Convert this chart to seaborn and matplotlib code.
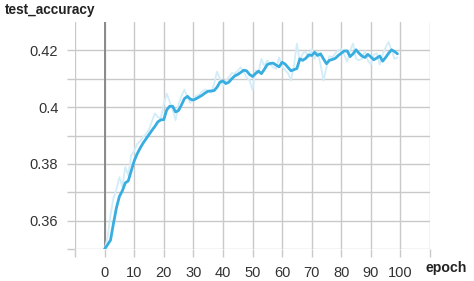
import numpy as np
import pandas as pd
import matplotlib
matplotlib.use("Agg")
import matplotlib.pyplot as plt
import seaborn as sns

epochs = list(range(100))

smoothed = [
    0.3500, 0.3515, 0.3531, 0.3590, 0.3645, 0.3685, 0.3705, 0.3733, 0.3740, 0.3775,
    0.3810, 0.3835, 0.3855, 0.3873, 0.3888, 0.3903, 0.3918, 0.3932, 0.3948, 0.3955,
    0.3956, 0.3990, 0.4003, 0.4003, 0.3983, 0.3988, 0.4008, 0.4030, 0.4038, 0.4028,
    0.4025, 0.4030, 0.4036, 0.4042, 0.4050, 0.4056, 0.4057, 0.4058, 0.4070, 0.4088,
    0.4092, 0.4083, 0.4088, 0.4100, 0.4110, 0.4115, 0.4122, 0.4130, 0.4128, 0.4115,
    0.4108, 0.4118, 0.4127, 0.4118, 0.4133, 0.4150, 0.4154, 0.4155, 0.4148, 0.4142,
    0.4158, 0.4152, 0.4140, 0.4128, 0.4132, 0.4136, 0.4170, 0.4165, 0.4172, 0.4184,
    0.4182, 0.4193, 0.4182, 0.4188, 0.4170, 0.4153, 0.4165, 0.4168, 0.4172, 0.4182,
    0.4190, 0.4198, 0.4198, 0.4178, 0.4188, 0.4202, 0.4190, 0.4180, 0.4175, 0.4186,
    0.4177, 0.4167, 0.4173, 0.4180, 0.4162, 0.4175, 0.4190, 0.4202, 0.4196, 0.4188,
]

raw = [
    0.3500, 0.3540, 0.3620, 0.3680, 0.3710, 0.3753, 0.3720, 0.3789, 0.3760, 0.3830,
    0.3845, 0.3870, 0.3880, 0.3895, 0.3905, 0.3920, 0.3950, 0.3978, 0.3965, 0.3960,
    0.4010, 0.4048, 0.4020, 0.3990, 0.3954, 0.4010, 0.4040, 0.4062, 0.4035, 0.4015,
    0.4030, 0.4040, 0.4045, 0.4055, 0.4062, 0.4058, 0.4050, 0.4080, 0.4125, 0.4100,
    0.4075, 0.4095, 0.4105, 0.4120, 0.4118, 0.4128, 0.4140, 0.4125, 0.4105, 0.4095,
    0.4060, 0.4130, 0.4120, 0.4170, 0.4145, 0.4165, 0.4150, 0.4140, 0.4135, 0.4175,
    0.4145, 0.4130, 0.4120, 0.4094, 0.4145, 0.4224, 0.4160, 0.4190, 0.4195, 0.4175,
    0.4205, 0.4170, 0.4195, 0.4150, 0.4094, 0.4140, 0.4180, 0.4175, 0.4190, 0.4200,
    0.4205, 0.4185, 0.4160, 0.4200, 0.4224, 0.4170, 0.4165, 0.4170, 0.4198, 0.4165,
    0.4150, 0.4185, 0.4190, 0.4150, 0.4185, 0.4210, 0.4230, 0.4200, 0.4170, 0.4175,
]

x_ticks = list(range(-10, 111, 10))
x_labels = ["" if t < 0 or t > 100 else str(t) for t in x_ticks]
y_ticks = [0.35, 0.36, 0.37, 0.38, 0.39, 0.40, 0.41, 0.42]
y_labels = ["", "0.36", "", "0.38", "", "0.4", "", "0.42"]

title = "test_accuracy"
xlabel = "epoch"

sns.set_theme(style="white")
plt.rcParams["font.family"] = ["Liberation Sans", "DejaVu Sans"]

df = pd.DataFrame({"epoch": epochs, "smoothed": smoothed, "raw": raw})

fig = plt.figure(figsize=(4.74, 2.81), dpi=100)
ax = fig.add_axes([75 / 474, 1 - 249 / 281, (430 - 75) / 474, (249 - 22) / 281])

grid_c = "#c9c9c9"
sns.lineplot(data=df, x="epoch", y="raw", ax=ax, color="#d2edf9", linewidth=1.3, zorder=3)
sns.lineplot(data=df, x="epoch", y="smoothed", ax=ax, color="#38ade0", linewidth=2.0, zorder=4)

ax.set_xlim(-10, 110)
ax.set_ylim(0.35, 0.43)
ax.set_xticks(x_ticks)
ax.set_xticklabels(x_labels)
ax.set_yticks(y_ticks)
ax.set_yticklabels(y_labels)
ax.grid(True, color=grid_c, linewidth=1.0, zorder=0)
ax.set_axisbelow(True)
for s in ax.spines.values():
    s.set_visible(False)
ax.axvline(0, color="#8a8a8a", linewidth=1.4, zorder=2)
ax.tick_params(axis="both", which="both", length=6, width=1.0, color=grid_c,
               labelsize=10.5, labelcolor="#333333", bottom=True, left=True)
ax.tick_params(axis="y", pad=6)
ax.tick_params(axis="x", pad=6)
ax.set_xlabel("")
ax.set_ylabel("")

fig.text(5 / 474, 1 - 10 / 281, title, fontsize=9.8, fontweight="bold",
         color="#222222", ha="left", va="center")
fig.text(467 / 474, 1 - 268 / 281, xlabel, fontsize=10.2, fontweight="bold",
         color="#222222", ha="right", va="center")

fig.savefig("out.png", dpi=100)
